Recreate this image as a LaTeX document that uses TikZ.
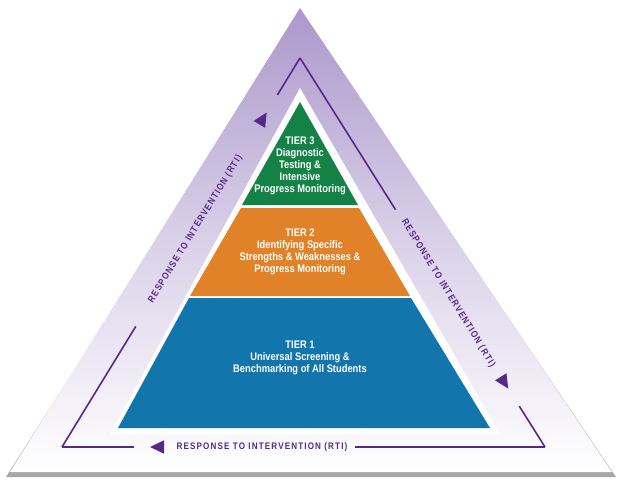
\documentclass[tikz,border=0pt]{standalone}
\usepackage{fontspec}
\setmainfont{Liberation Sans}[FakeStretch=0.85]
\usetikzlibrary{arrows.meta,calc}
\definecolor{rti}{RGB}{86,40,140}
\definecolor{lav}{RGB}{172,152,204}
\definecolor{t3}{RGB}{20,130,70}
\definecolor{t2}{RGB}{226,130,40}
\definecolor{t1}{RGB}{18,118,172}
\tikzset{
 rline/.style={draw=rti,line width=1.6pt},
 rarr/.style={rline,-{Triangle[length=14pt,width=13pt]}},
 rlab/.style={text=rti,font=\bfseries\fontsize{9.5}{10}\selectfont\addfontfeature{LetterSpace=12},inner sep=1pt},
 tlab/.style={text=white,font=\bfseries\fontsize{11}{12}\selectfont,align=center},
 sep/.style={draw=white,line width=1.2pt,dash pattern=on 1.5pt off 1.5pt}
}
\begin{document}
\begin{tikzpicture}[x=1pt,y=-1pt]
\useasboundingbox (0,0) rectangle (618,500);
% shadow and outer triangle
\fill[black!35] (302,13) -- (616,477) -- (6,477) -- cycle;
\shade[top color=lav,bottom color=white,middle color=lav!45] (300,8) -- (612,472) -- (10,472) -- cycle;
% inner white pyramid
\fill[white] (300,88) -- (500,434) -- (110,434) -- cycle;
\fill[t3] (300,102) -- (358,205) -- (242,205) -- cycle;
\fill[t2] (241,208) -- (359,208) -- (410,296) -- (190,296) -- cycle;
\fill[t1] (189,298) -- (411,298) -- (490,428) -- (118,428) -- cycle;
\draw[sep] (241,206.5) -- (359,206.5);
\draw[sep] (190,297) -- (410,297);
\node[tlab] (n3) at (300,166) {TIER 3\\Diagnostic\\Testing \&\\Intensive\\Progress Monitoring};
\node[tlab] (n2) at (300,252) {TIER 2\\Identifying Specific\\Strengths \& Weaknesses \&\\Progress Monitoring};
\node[tlab] (n1) at (300,358) {TIER 1\\Universal Screening \&\\Benchmarking of All Students};
% RTI path
\coordinate (A) at (300,58);
\coordinate (L) at (62,447);
\coordinate (R) at (545,447);
% left side
\node[rlab,rotate=58.5] (tl) at ($(L)!0.56!(A)$) {RESPONSE TO INTERVENTION (RTI)};
\draw[rline] (L) -- ($(L)!0.31!(A)$);
\coordinate (la1) at ($(L)!0.83!(A)$);
\coordinate (la2) at ($(L)!0.86!(A)$);
\draw[rarr] (la1) -- (la2);
\draw[rline] ($(L)!0.905!(A)$) -- (A);
% right side
\draw[rline] (A) -- ($(A)!0.39!(R)$);
\node[rlab,rotate=-58.5] (tr) at ($(A)!0.605!(R)$) {RESPONSE TO INTERVENTION (RTI)};
\coordinate (ra1) at ($(A)!0.82!(R)$);
\coordinate (ra2) at ($(A)!0.85!(R)$);
\draw[rarr] (ra1) -- (ra2);
\draw[rline] ($(A)!0.895!(R)$) -- (R);
% bottom
\node[rlab] (tb) at (262,447) {RESPONSE TO INTERVENTION (RTI)};
\draw[rline] (R) -- ([xshift=6pt]tb.east);
\coordinate (ba1) at (160,447);
\coordinate (ba2) at (150,447);
\draw[rarr] (ba1) -- (ba2);
\draw[rline] (134,447) -- (L);
\end{tikzpicture}
\end{document}
